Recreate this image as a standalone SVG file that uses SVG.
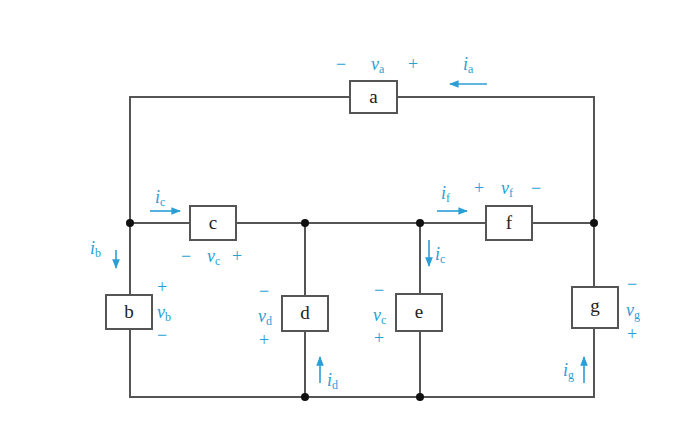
<svg xmlns="http://www.w3.org/2000/svg" width="700" height="447" viewBox="0 0 700 447">
<defs>
<marker id="ar" viewBox="0 0 10 10" refX="9" refY="5" markerWidth="6" markerHeight="6" orient="auto"><path d="M0,1 L10,5 L0,9 z" fill="#2a9fd6"/></marker>
<style>
.w{stroke:#555;stroke-width:2;fill:none}
.bx{fill:#fff;stroke:#555;stroke-width:2}
.bt{font-family:"Liberation Serif","DejaVu Serif",serif;font-size:19px;fill:#222;text-anchor:middle}
.l{font-family:"Liberation Serif","DejaVu Serif",serif;font-size:18px;fill:#2a9fd6}
.s{font-size:12px;font-style:normal}
.i{font-style:italic}
.ca{stroke:#2a9fd6;stroke-width:1.6;marker-end:url(#ar)}
.dot{fill:#111}
</style>
</defs>
<rect width="700" height="447" fill="#fff"/>
<g id="wires">
<path class="w" d="M130,397 V97 H594 V397 Z"/>
<path class="w" d="M130,223 H594"/>
<path class="w" d="M305,223 V397 M420,223 V397"/>
<circle class="dot" cx="130" cy="223" r="4"/><circle class="dot" cx="305" cy="223" r="4"/>
<circle class="dot" cx="420" cy="223" r="4"/><circle class="dot" cx="594" cy="223" r="4"/>
<circle class="dot" cx="305" cy="397" r="4"/><circle class="dot" cx="420" cy="397" r="4"/>
<line class="ca" x1="487" y1="84" x2="450" y2="84"/>
<line class="ca" x1="150" y1="211" x2="180" y2="211"/>
<line class="ca" x1="437" y1="211" x2="467" y2="211"/>
<line class="ca" x1="116" y1="250" x2="116" y2="268"/>
<line class="ca" x1="429" y1="240" x2="429" y2="266"/>
<line class="ca" x1="320" y1="383" x2="320" y2="357"/>
<line class="ca" x1="584" y1="383" x2="584" y2="357"/>
</g>
<g id="a"><rect class="bx" x="350" y="81" width="47" height="32"/><text class="bt" x="373.5" y="103">a</text></g>
<g id="c"><rect class="bx" x="190" y="206" width="46" height="34"/><text class="bt" x="213" y="229">c</text></g>
<g id="f"><rect class="bx" x="486" y="206" width="46" height="34"/><text class="bt" x="509" y="229">f</text></g>
<g id="b"><rect class="bx" x="106" y="295" width="46" height="34"/><text class="bt" x="129" y="318">b</text></g>
<g id="d"><rect class="bx" x="282" y="296" width="46" height="35"/><text class="bt" x="305" y="319">d</text></g>
<g id="e"><rect class="bx" x="396" y="294" width="46" height="37"/><text class="bt" x="419" y="318">e</text></g>
<g id="g"><rect class="bx" x="572" y="287" width="46" height="41"/><text class="bt" x="595" y="312">g</text></g>
<g id="labels" class="l">
<text x="336" y="70">−</text><text class="i" x="371" y="70">v<tspan class="s" dy="3">a</tspan></text><text x="408" y="70">+</text>
<text class="i" x="463" y="70">i<tspan class="s" dy="3">a</tspan></text>
<text class="i" x="155" y="203">i<tspan class="s" dy="3">c</tspan></text>
<text x="181" y="262">−</text><text class="i" x="207" y="262">v<tspan class="s" dy="3">c</tspan></text><text x="232" y="262">+</text>
<text class="i" x="90" y="254">i<tspan class="s" dy="3">b</tspan></text>
<text x="157" y="293">+</text><text class="i" x="157" y="318">v<tspan class="s" dy="3">b</tspan></text><text x="157" y="341">−</text>
<text x="259" y="297">−</text><text class="i" x="258" y="322">v<tspan class="s" dy="3">d</tspan></text><text x="259" y="346">+</text>
<text class="i" x="327" y="386">i<tspan class="s" dy="3">d</tspan></text>
<text x="374" y="296">−</text><text class="i" x="373" y="321">v<tspan class="s" dy="3">c</tspan></text><text x="374" y="344">+</text>
<text class="i" x="435" y="260">i<tspan class="s" dy="3">c</tspan></text>
<text class="i" x="441" y="199">i<tspan class="s" dy="3">f</tspan></text>
<text x="474" y="194">+</text><text class="i" x="501" y="194">v<tspan class="s" dy="3">f</tspan></text><text x="531" y="194">−</text>
<text x="627" y="290">−</text><text class="i" x="626" y="316">v<tspan class="s" dy="3">g</tspan></text><text x="627" y="340">+</text>
<text class="i" x="563" y="376">i<tspan class="s" dy="3">g</tspan></text>
</g>
</svg>
